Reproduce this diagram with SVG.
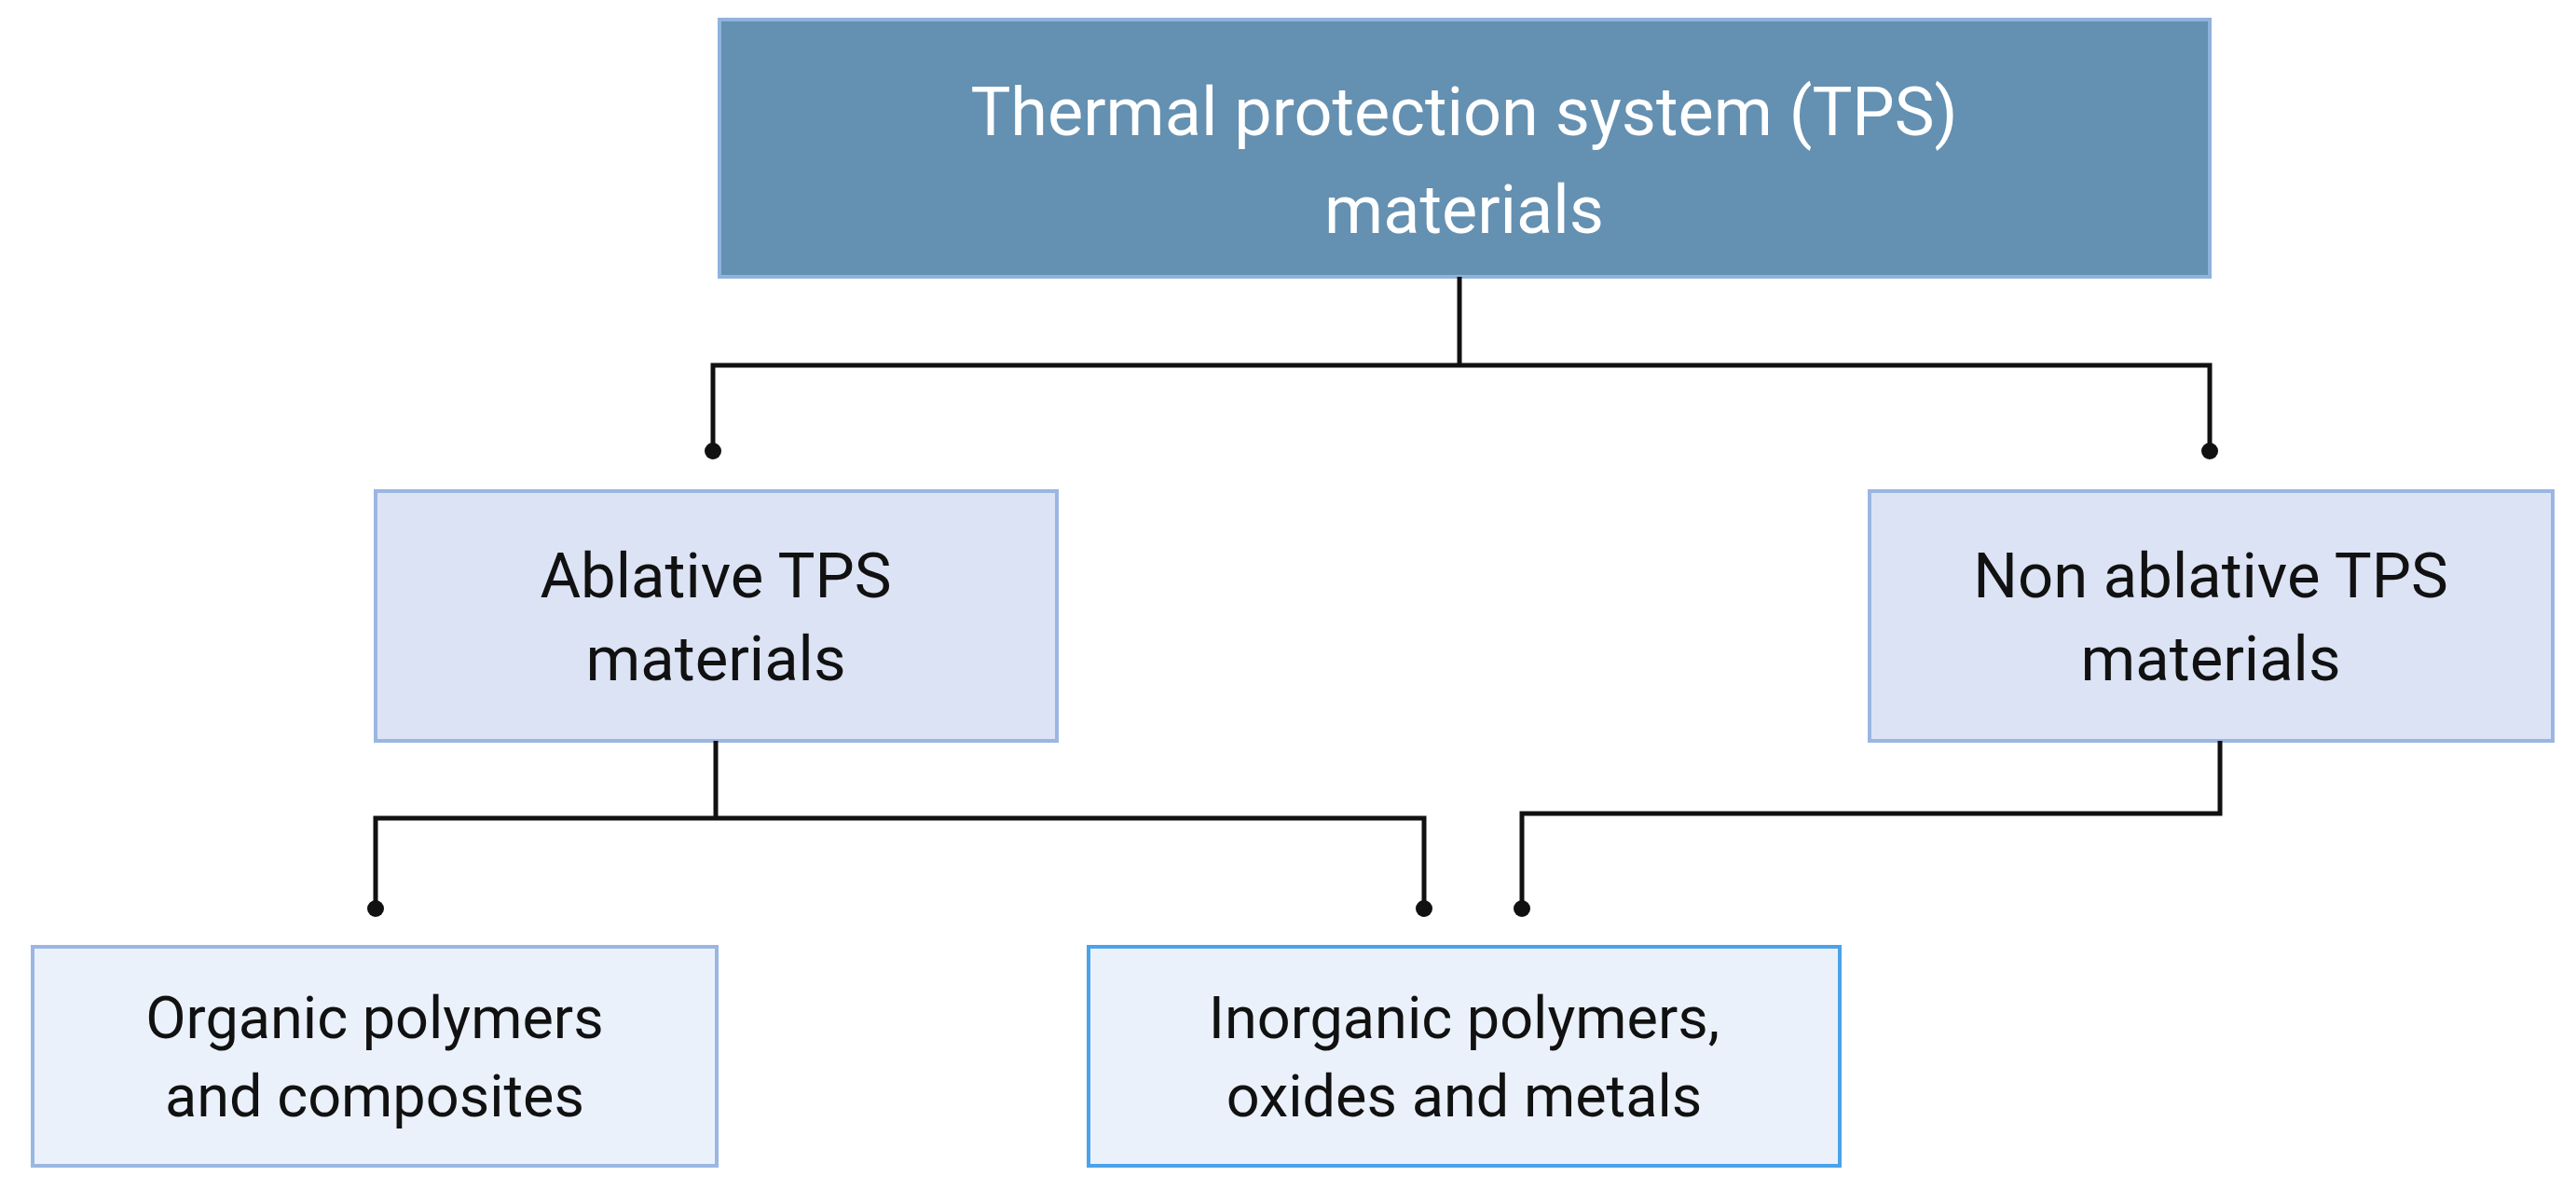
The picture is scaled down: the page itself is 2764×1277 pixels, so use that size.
<svg xmlns="http://www.w3.org/2000/svg" width="2764" height="1277" viewBox="0 0 2764 1277">
<style>
text{font-family:Roboto,"Liberation Sans",sans-serif;text-anchor:middle;fill:#111}
.top{fill:#6490b1;stroke:#8fb3dc;stroke-width:4}
.mid{fill:#dce3f5;stroke:#9bb6e2;stroke-width:4}
.bot{fill:#eaf1fb;stroke:#9bb6e2;stroke-width:4}
.bot2{fill:#eaf1fb;stroke:#4aa3e8;stroke-width:4}
.c{fill:none;stroke:#111;stroke-width:5}
.d{fill:#111}
</style>
<rect width="2764" height="1277" fill="#fff"/>
<g id="n-top"><rect class="top" x="772" y="21" width="1599" height="276"/>
<text x="1571" y="145" font-size="72" style="fill:#fff">Thermal protection system (TPS)</text>
<text x="1571" y="250" font-size="72" style="fill:#fff">materials</text></g>
<g id="n-abl"><rect class="mid" x="403" y="527" width="731" height="268"/>
<text x="768" y="641" font-size="67">Ablative TPS</text>
<text x="768" y="730" font-size="67">materials</text></g>
<g id="n-non"><rect class="mid" x="2006" y="527" width="733" height="268"/>
<text x="2372" y="641" font-size="67">Non ablative TPS</text>
<text x="2372" y="730" font-size="67">materials</text></g>
<g id="n-org"><rect class="bot" x="35" y="1016" width="734" height="235"/>
<text x="402" y="1114" font-size="63">Organic polymers</text>
<text x="402" y="1198" font-size="63">and composites</text></g>
<g id="n-inorg"><rect class="bot2" x="1168" y="1016" width="806" height="235"/>
<text x="1571" y="1114" font-size="63">Inorganic polymers,</text>
<text x="1571" y="1198" font-size="63">oxides and metals</text></g>
<g id="connectors">
<path class="c" d="M1566 297V392M765 481V392H2371V481"/>
<path class="c" d="M768 795V878M403 970V878H1528V970"/>
<path class="c" d="M2382 795V873H1633V970"/>
<circle class="d" cx="765" cy="484" r="9"/><circle class="d" cx="2371" cy="484" r="9"/>
<circle class="d" cx="403" cy="975" r="9"/><circle class="d" cx="1528" cy="975" r="9"/><circle class="d" cx="1633" cy="975" r="9"/>
</g>
</svg>
